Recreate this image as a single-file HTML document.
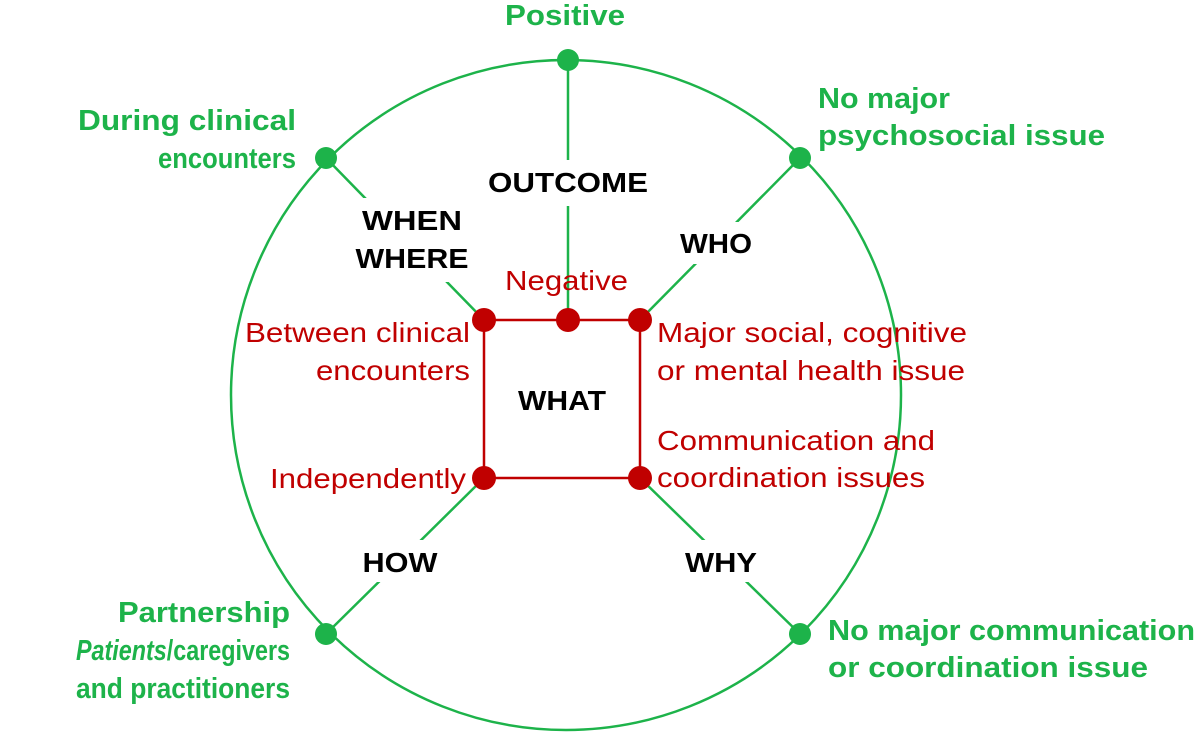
<!DOCTYPE html>
<html><head><meta charset="utf-8"><style>
html,body{margin:0;padding:0;background:#fff;}
svg{display:block;}
.g{fill:#1db34a;font-family:"Liberation Sans",sans-serif;font-weight:bold;font-size:29px;}
.r{fill:#c00000;font-family:"Liberation Sans",sans-serif;font-size:28px;}
.k{fill:#000;font-family:"Liberation Sans",sans-serif;font-weight:bold;font-size:28px;}
</style></head><body>
<svg width="1200" height="736" viewBox="0 0 1200 736">
<circle cx="566" cy="395" r="335" fill="none" stroke="#1db34a" stroke-width="2.5"/>
<g stroke="#1db34a" stroke-width="2.5">
<line x1="568" y1="60" x2="568" y2="320"/>
<line x1="326" y1="158" x2="484" y2="320"/>
<line x1="800" y1="158" x2="640" y2="320"/>
<line x1="326" y1="634" x2="484" y2="478"/>
<line x1="800" y1="634" x2="640" y2="478"/>
</g>
<rect x="484" y="320" width="156" height="158" fill="none" stroke="#c00000" stroke-width="2.5"/>
<g fill="#1db34a">
<circle cx="568" cy="60" r="11"/><circle cx="326" cy="158" r="11"/><circle cx="800" cy="158" r="11"/>
<circle cx="326" cy="634" r="11"/><circle cx="800" cy="634" r="11"/>
</g>
<g fill="#c00000">
<circle cx="484" cy="320" r="12"/><circle cx="568" cy="320" r="12"/><circle cx="640" cy="320" r="12"/>
<circle cx="484" cy="478" r="12"/><circle cx="640" cy="478" r="12"/>
</g>
<g fill="#fff">
<rect x="484" y="160" width="168" height="46"/>
<rect x="350" y="198" width="124" height="84"/>
<rect x="674" y="222" width="84" height="42"/>
<rect x="358" y="540" width="86" height="42"/>
<rect x="680" y="540" width="82" height="42"/>
</g>
<g class="k" text-anchor="middle" lengthAdjust="spacingAndGlyphs">
<text x="568" y="192" textLength="160" lengthAdjust="spacingAndGlyphs">OUTCOME</text>
<text x="412" y="230" textLength="100" lengthAdjust="spacingAndGlyphs">WHEN</text>
<text x="412" y="268" textLength="113" lengthAdjust="spacingAndGlyphs">WHERE</text>
<text x="716" y="253" textLength="72" lengthAdjust="spacingAndGlyphs">WHO</text>
<text x="400" y="572" textLength="75" lengthAdjust="spacingAndGlyphs">HOW</text>
<text x="721" y="572" textLength="72" lengthAdjust="spacingAndGlyphs">WHY</text>
<text x="562" y="410" textLength="88" lengthAdjust="spacingAndGlyphs">WHAT</text>
</g>
<g class="g">
<text x="505" y="25" textLength="120" lengthAdjust="spacingAndGlyphs">Positive</text>
<text x="78" y="130" textLength="218" lengthAdjust="spacingAndGlyphs">During clinical</text>
<text x="158" y="168" textLength="138" lengthAdjust="spacingAndGlyphs">encounters</text>
<text x="818" y="108" textLength="132" lengthAdjust="spacingAndGlyphs">No major</text>
<text x="818" y="145" textLength="287" lengthAdjust="spacingAndGlyphs">psychosocial issue</text>
<text x="118" y="622" textLength="172" lengthAdjust="spacingAndGlyphs">Partnership</text>
<text x="76" y="660" textLength="214" lengthAdjust="spacingAndGlyphs"><tspan font-style="italic">Patients</tspan>/caregivers</text>
<text x="76" y="698" textLength="214" lengthAdjust="spacingAndGlyphs">and practitioners</text>
<text x="828" y="640" textLength="367" lengthAdjust="spacingAndGlyphs">No major communication</text>
<text x="828" y="677" textLength="320" lengthAdjust="spacingAndGlyphs">or coordination issue</text>
</g>
<g class="r">
<text x="505" y="290" textLength="123" lengthAdjust="spacingAndGlyphs">Negative</text>
<text x="245" y="342" textLength="225" lengthAdjust="spacingAndGlyphs">Between clinical</text>
<text x="316" y="380" textLength="154" lengthAdjust="spacingAndGlyphs">encounters</text>
<text x="657" y="342" textLength="310" lengthAdjust="spacingAndGlyphs">Major social, cognitive</text>
<text x="657" y="380" textLength="308" lengthAdjust="spacingAndGlyphs">or mental health issue</text>
<text x="657" y="450" textLength="278" lengthAdjust="spacingAndGlyphs">Communication and</text>
<text x="657" y="487" textLength="268" lengthAdjust="spacingAndGlyphs">coordination issues</text>
<text x="270" y="488" textLength="196" lengthAdjust="spacingAndGlyphs">Independently</text>
</g>
</svg>
</body></html>
